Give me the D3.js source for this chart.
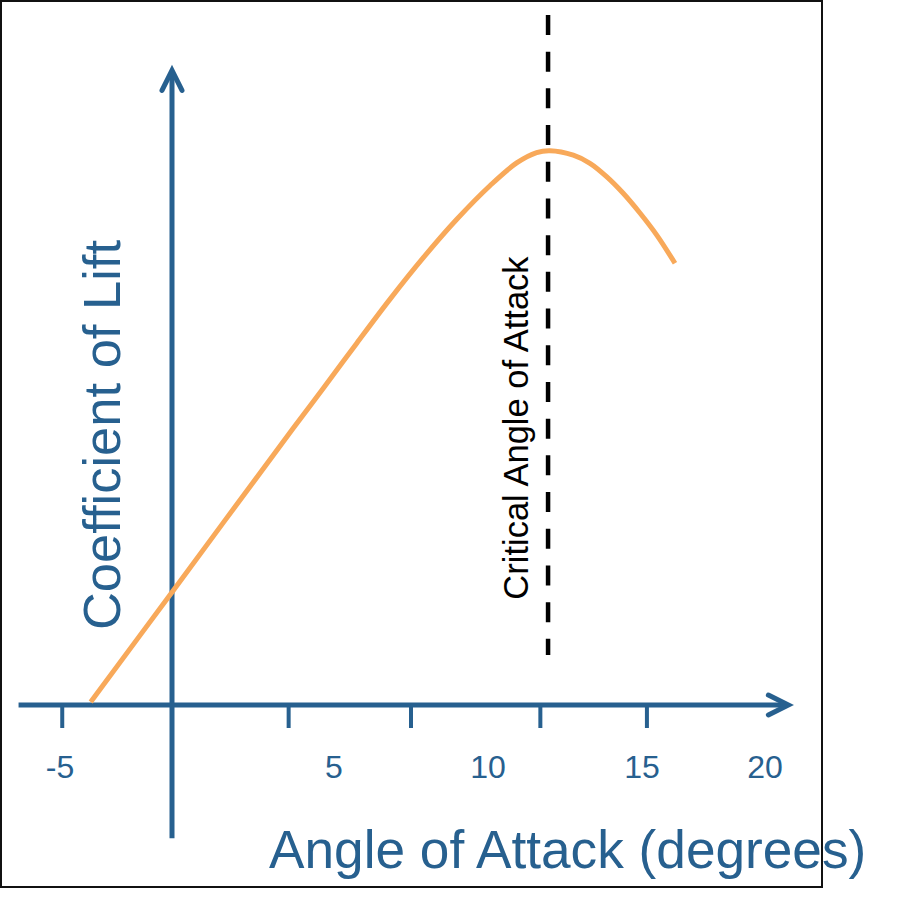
<!DOCTYPE html>
<html>
<head>
<meta charset="utf-8">
<script src="https://cdn.jsdelivr.net/npm/d3@7"></script>
<style>
  html, body { margin: 0; padding: 0; background: #fff; }
  svg { display: block; font-family: "Liberation Sans", Arial, Helvetica, sans-serif; }
</style>
</head>
<body>
<svg id="chart" width="900" height="913"></svg>
<script>
// ---- data ----
const angleOfAttack = [-3.63, 0, 3.74, 4.67, 5.74, 6.82, 7.9, 8.98, 10.07, 10.93, 11.58, 12.01, 12.77, 13.31, 13.85, 14.39, 14.94, 15.6, 16.34];
const liftCoefficient = [0.008, 0.305, 0.748, 0.856, 0.978, 1.097, 1.209, 1.312, 1.404, 1.465, 1.493, 1.498, 1.486, 1.464, 1.428, 1.383, 1.329, 1.27, 1.194];
const tickLabels = [-5, 5, 10, 15, 20];
const tickMarks = [-4.9, 3.6, 7.5, 11.7, 15.2];
const criticalAngle = [11.95];
const criticalLabel = ["Critical Angle of Attack"];
const xTitle = ["Angle of Attack (degrees)"];
const yTitle = ["Coefficient of Lift"];
const xAxisExtent = [-6.85, 20.95];
const yAxisExtent = [-0.36, 1.715];
const criticalLineExtent = [0.135, 1.865];

// ---- scales ----
const x = d3.scaleLinear()
  .domain([-5, 0, 5, 10, 15, 20])
  .range([60, 172, 334, 488, 642, 765]);
const y = d3.scaleLinear().domain([0, 1.5]).range([705, 150]);

const blue = "#27608f";
const orange = "#f8a95a";

const svg = d3.select("#chart");

// frame
svg.append("rect")
  .attr("x", 1).attr("y", 1).attr("width", 821).attr("height", 886)
  .attr("fill", "none").attr("stroke", "#111").attr("stroke-width", 2);

// critical angle dashed line
svg.append("line")
  .attr("x1", x(criticalAngle[0])).attr("x2", x(criticalAngle[0]))
  .attr("y1", y(criticalLineExtent[1])).attr("y2", y(criticalLineExtent[0]))
  .attr("stroke", "#000").attr("stroke-width", 4.5)
  .attr("stroke-dasharray", "20,16.7");

// critical label
svg.append("text")
  .attr("transform", `translate(${x(criticalAngle[0]) - 20},${y(criticalLineExtent[0]) - 227}) rotate(-90)`)
  .attr("text-anchor", "middle")
  .attr("font-size", 34.5)
  .attr("fill", "#000")
  .text(criticalLabel[0]);

// x axis line + arrow
const x0 = x(xAxisExtent[0]), x1 = x(xAxisExtent[1]), yAx = y(0);
svg.append("line")
  .attr("x1", x0).attr("x2", x1 - 2).attr("y1", yAx).attr("y2", yAx)
  .attr("stroke", blue).attr("stroke-width", 5);
svg.append("path")
  .attr("d", `M${x1 - 20},${yAx - 10}L${x1},${yAx}L${x1 - 20},${yAx + 10}`)
  .attr("fill", "none").attr("stroke", blue).attr("stroke-width", 5)
  .attr("stroke-linecap", "round");

// ticks
svg.selectAll("line.tick").data(tickMarks).join("line")
  .attr("class", "tick")
  .attr("x1", d => x(d)).attr("x2", d => x(d))
  .attr("y1", yAx).attr("y2", yAx + 23)
  .attr("stroke", blue).attr("stroke-width", 4);

// tick labels
svg.selectAll("text.tl").data(tickLabels).join("text")
  .attr("class", "tl")
  .attr("x", d => x(d)).attr("y", 778)
  .attr("text-anchor", "middle")
  .attr("font-size", 32)
  .attr("fill", blue)
  .text(d => d);

// y axis line + arrow
const xAx = x(0), yTop = y(yAxisExtent[1]), yBot = y(yAxisExtent[0]);
svg.append("line")
  .attr("x1", xAx).attr("x2", xAx).attr("y1", yBot).attr("y2", yTop + 2)
  .attr("stroke", blue).attr("stroke-width", 5);
svg.append("path")
  .attr("d", `M${xAx - 10},${yTop + 20}L${xAx},${yTop}L${xAx + 10},${yTop + 20}`)
  .attr("fill", "none").attr("stroke", blue).attr("stroke-width", 5)
  .attr("stroke-linecap", "round");

// lift curve
const data = angleOfAttack.map((a, i) => ({ a, c: liftCoefficient[i] }));
const line = d3.line().x(d => x(d.a)).y(d => y(d.c)).curve(d3.curveCatmullRom.alpha(0.5));
svg.append("path")
  .datum(data)
  .attr("d", line)
  .attr("fill", "none").attr("stroke", orange).attr("stroke-width", 5);

// axis titles
svg.append("text")
  .attr("x", 269).attr("y", 868)
  .attr("font-size", 53.2)
  .attr("fill", blue)
  .text(xTitle[0]);

svg.append("text")
  .attr("transform", "translate(120,435) rotate(-90)")
  .attr("text-anchor", "middle")
  .attr("font-size", 52.5)
  .attr("fill", blue)
  .text(yTitle[0]);
</script>
</body>
</html>
